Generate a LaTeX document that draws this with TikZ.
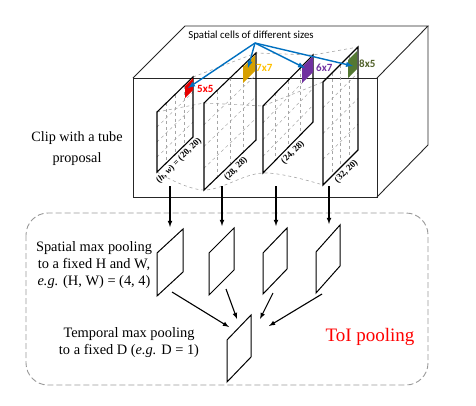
\documentclass[tikz,border=0pt]{standalone}
\usepackage{fontspec}
\setmainfont{Liberation Serif}
\newfontfamily\calibri{Carlito}
\usetikzlibrary{calc}

\definecolor{cellblue}{RGB}{0,112,192}
\definecolor{cellred}{RGB}{230,0,0}
\definecolor{cellgold}{RGB}{255,192,0}
\definecolor{goldpatch}{RGB}{215,160,0}
\definecolor{cellpurple}{RGB}{112,48,160}
\definecolor{cellgreen}{RGB}{84,120,50}
\definecolor{greentext}{RGB}{80,96,40}

\tikzstyle{box}=[draw=black!85, line width=0.9pt]
\tikzstyle{slice}=[draw, line width=1.1pt]
\tikzstyle{grid}=[draw=black!35, dashed, line width=0.5pt]
\tikzstyle{tube}=[draw=black!35, dashed, line width=0.6pt]
\tikzstyle{pool}=[draw=black!40, dash pattern=on 6pt off 3pt, rounded corners=22pt, line width=0.9pt]
\tikzstyle{fmap}=[draw, line width=1pt]
\tikzstyle{flow}=[-latex, line width=1.1pt]
\tikzstyle{cellarrow}=[-latex, line width=1.4pt, cellblue]
\tikzstyle{celllab}=[font=\calibri\bfseries\fontsize{11}{12}\selectfont, anchor=west, inner sep=0pt]
\tikzstyle{sizelab}=[font=\bfseries\fontsize{9}{10}\selectfont, rotate=45, inner sep=0pt]
\tikzstyle{note}=[font=\fontsize{14.4}{17}\selectfont, align=center, inner sep=0pt]

\begin{document}
\begin{tikzpicture}[x=1pt, y=-1pt]
  \useasboundingbox (0,0) rectangle (476,405);

  % the clip as a box
  \draw[box] (133,78) rectangle (377,197);
  \draw[box] (133,78) -- (185,26) -- (428,26) -- (377,78);
  \draw[box] (428,26) -- (428,145) -- (377,197);
  \node[note, font=\fontsize{14.2}{21}\selectfont] (clip) at (77,149) {Clip with a tube\\proposal};

  % frames of the tube
  \foreach \s/\ptl/\ptr/\h in {1/{157,112}/{193,77}/60, 2/{204,103}/{256,53}/87,
                               3/{263,106}/{313,55}/67, 4/{323,82}/{358,47}/103} {%
    \coordinate (s\s-tl) at (\ptl);
    \coordinate (s\s-tr) at (\ptr);
    \coordinate (s\s-bl) at ($(\ptl)+(0,\h)$);
    \coordinate (s\s-br) at ($(\ptr)+(0,\h)$);
  }
  \draw[tube] (s1-tr) -- (s2-tr) -- (s3-tr) -- (s4-tr);
  \draw[tube] (s1-tl) -- (s2-tl) -- (s3-tl) -- (s4-tl);
  \draw[tube] plot[smooth, tension=0.6] coordinates {(s1-bl) (s2-bl) (s3-bl) (s4-bl)};
  \foreach \s in {1,...,4} {%
    \foreach \i in {1,2,3} {%
      \draw[grid] ($(s\s-tl)!\i/4!(s\s-tr)$) -- ($(s\s-bl)!\i/4!(s\s-br)$);
      \draw[grid] ($(s\s-tl)!\i/4!(s\s-bl)$) -- ($(s\s-tr)!\i/4!(s\s-br)$);
    }
    \draw[slice] (s\s-tl) -- (s\s-tr) -- (s\s-br) -- (s\s-bl) -- cycle;
  }
  \node[sizelab] (size1) at ($(s1-bl)!0.5!(s1-br)+(4,6)$) {(\textit{h}, \textit{w}) = (20, 20)};
  \node[sizelab] (size2) at ($(s2-bl)!0.5!(s2-br)+(6,4)$) {(28, 28)};
  \node[sizelab] (size3) at ($(s3-bl)!0.5!(s3-br)+(5,5)$) {(24, 28)};
  \node[sizelab] (size4) at ($(s4-bl)!0.5!(s4-br)+(6,4)$) {(32, 20)};

  % spatial cells
  \fill[cellred] (193,78) -- ++(-8,8) -- ++(0,12) -- ++(8,-8) -- cycle;
  \fill[goldpatch] (255,55) -- ++(-12,12) -- ++(0,16) -- ++(12,-12) -- cycle;
  \fill[cellpurple] (313,56) -- ++(-11,11) -- ++(0,16) -- ++(11,-11) -- cycle;
  \fill[cellgreen] (357,51) -- ++(-9,9) -- ++(0,18) -- ++(9,-9) -- cycle;
  \node[celllab, text=red] (c5x5) at (197,89) {5x5};
  \node[celllab, text=cellgold] (c7x7) at (256,68) {7x7};
  \node[celllab, text=cellpurple] (c6x7) at (316,68) {6x7};
  \node[celllab, text=greentext] (c8x5) at (359,64) {8x5};
  \node[font=\calibri\fontsize{10.8}{12}\selectfont, inner sep=0pt] (cells) at (251,36) {Spatial cells of different sizes};
  \coordinate (src) at (255,43);
  \coordinate (red) at (188,88);
  \coordinate (gold) at (248,68);
  \coordinate (purple) at (305,68);
  \coordinate (green) at (353,66);
  \foreach \t in {red, gold, purple, green}
    \draw[cellarrow] (src) -- (\t);

  % ToI pooling
  \draw[pool] (26,213) rectangle (428,385);
  \foreach \p/\ptl/\ptr/\h in {1/{157,253}/{183,229}/43, 2/{209,253}/{234,228}/42,
                               3/{263,253}/{287,228}/41, 4/{316,252}/{340,225}/41,
                               5/{227,340}/{251,315}/42} {%
    \draw[fmap] (\ptl) -- (\ptr) -- ($(\ptr)+(0,\h)$) -- ($(\ptl)+(0,\h)$) -- cycle;
  }
  \foreach \i/\x/\y in {1/170/227, 2/222/226, 3/276/226, 4/329/224} {%
    \coordinate (from\i) at (\x,186);
    \coordinate (to\i) at (\x,\y);
    \draw[flow] (from\i) -- (to\i);
  }
  \foreach \i/\a/\b in {1/{172,292}/{229,327}, 2/{226,289}/{237,319},
                        3/{273,293}/{260,319}, 4/{322,294}/{269,326}} {%
    \coordinate (out\i) at (\a);
    \coordinate (in\i) at (\b);
    \draw[flow] (out\i) -- (in\i);
  }
  \node[note] (spatial) at (94,265.5) {Spatial max pooling\\to a fixed H and W,\\\textit{e.g.} (H, W) = (4, 4)};
  \node[note] (temporal) at (129,343) {Temporal max pooling\\to a fixed D (\textit{e.g.} D = 1)};
  \node[font=\fontsize{19}{20}\selectfont, text=red, inner sep=0pt] (toi) at (370,337) {ToI pooling};
\end{tikzpicture}
\end{document}
